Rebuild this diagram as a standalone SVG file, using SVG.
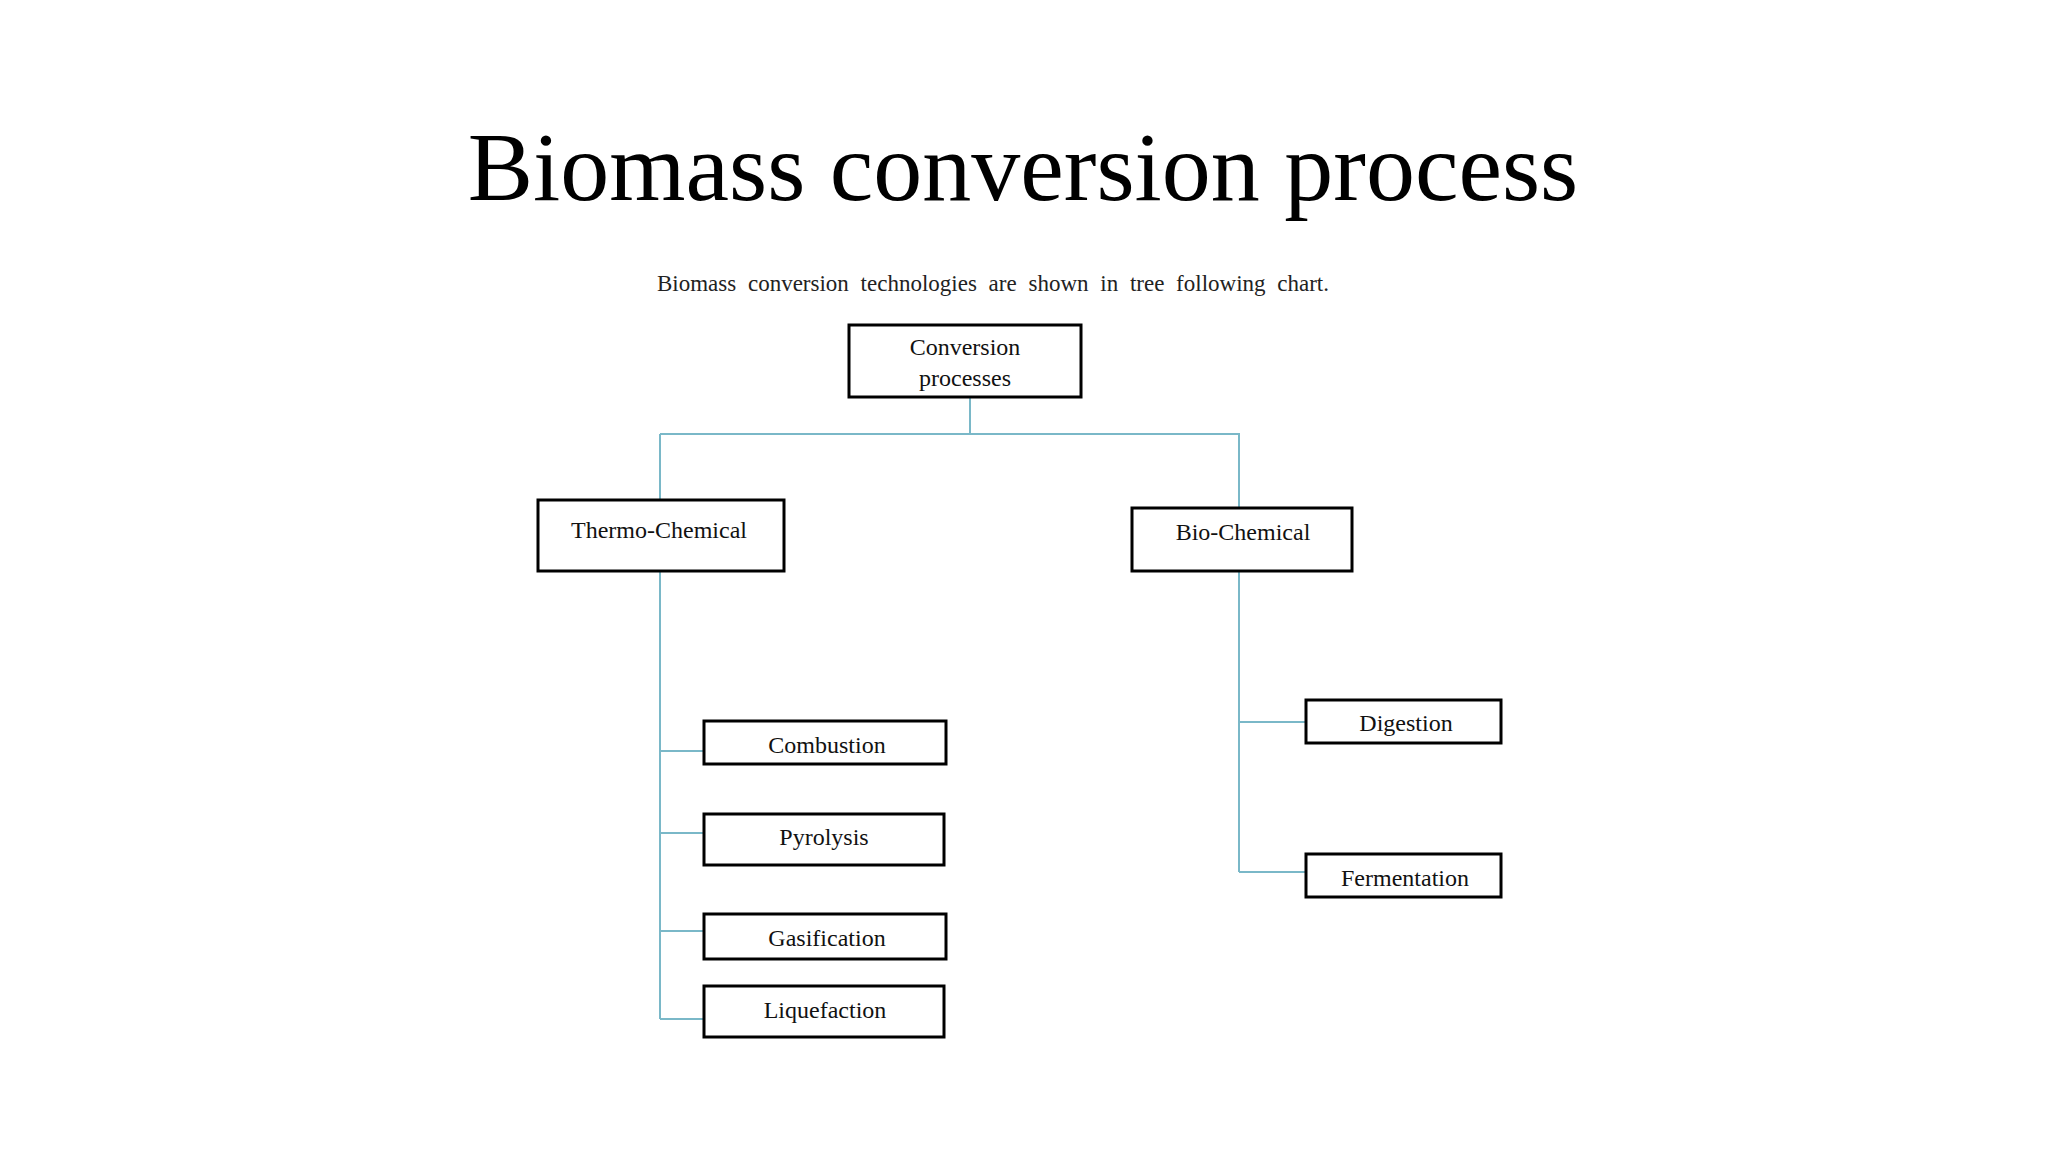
<svg xmlns="http://www.w3.org/2000/svg" width="2048" height="1152" viewBox="0 0 2048 1152">
<style>
.box{fill:#fff;stroke:#000;stroke-width:3}
.lbl{font-family:"Liberation Serif",serif;font-size:24px;text-anchor:middle;fill:#111}
.con{stroke:#7ab8c8;stroke-width:2;fill:none}
</style>
<rect width="2048" height="1152" fill="#fff"/>
<text x="1023" y="200" font-family="Liberation Serif,serif" font-size="98" text-anchor="middle">Biomass conversion process</text>
<text x="993" y="291" font-family="Liberation Serif,serif" font-size="23" text-anchor="middle" fill="#222" word-spacing="6">Biomass conversion technologies are shown in tree following chart.</text>
<g id="connectors" class="con">
<path d="M970 397V433M660 434H1239M660 434V500M1239 433V508"/>
<path d="M660 571V1019M660 751H704M660 833H704M660 931H704M660 1019H704"/>
<path d="M1239 571V872M1239 722H1306M1239 872H1306"/>
</g>
<g id="root"><rect class="box" x="849" y="325" width="232" height="72"/><text class="lbl" x="965" y="355">Conversion</text><text class="lbl" x="965" y="386">processes</text></g>
<g id="thermo"><rect class="box" x="538" y="500" width="246" height="71"/><text class="lbl" x="659" y="538">Thermo-Chemical</text></g>
<g id="bio"><rect class="box" x="1132" y="508" width="220" height="63"/><text class="lbl" x="1243" y="540">Bio-Chemical</text></g>
<g id="combustion"><rect class="box" x="704" y="721" width="242" height="43"/><text class="lbl" x="827" y="753">Combustion</text></g>
<g id="pyrolysis"><rect class="box" x="704" y="814" width="240" height="51"/><text class="lbl" x="824" y="845">Pyrolysis</text></g>
<g id="gasification"><rect class="box" x="704" y="914" width="242" height="45"/><text class="lbl" x="827" y="946">Gasification</text></g>
<g id="liquefaction"><rect class="box" x="704" y="986" width="240" height="51"/><text class="lbl" x="825" y="1018">Liquefaction</text></g>
<g id="digestion"><rect class="box" x="1306" y="700" width="195" height="43"/><text class="lbl" x="1406" y="731">Digestion</text></g>
<g id="fermentation"><rect class="box" x="1306" y="854" width="195" height="43"/><text class="lbl" x="1405" y="886">Fermentation</text></g>
</svg>
